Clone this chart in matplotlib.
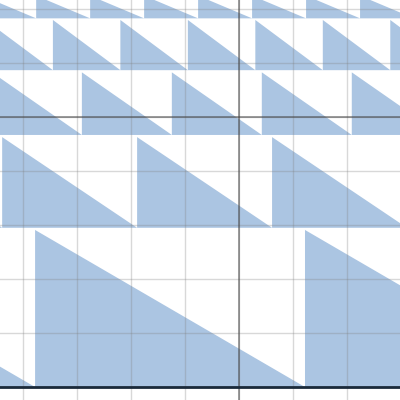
import numpy as np
import matplotlib.pyplot as plt

# sawtooth rows: bottom, top, period, one tooth edge position
row_bottom = [-5.0, -2.05, -0.33, 0.87, 1.83]
row_top = [-2.09, -0.37, 0.83, 1.80, 2.25]
row_period = [5.0, 2.5, 5 / 3, 1.25, 1.0]
row_edge = [1.22, 0.61, 0.42, 0.30, 0.24]

fig = plt.figure(figsize=(4, 4), dpi=100)
ax = fig.add_axes([0, 0, 1, 1])
xmin, xmax = -4.43, 2.98
ymin, ymax = -5.24, 2.17

for b, t, p, e in zip(row_bottom, row_top, row_period, row_edge):
    k0 = int(np.floor((xmin - e) / p)) - 1
    k1 = int(np.ceil((xmax - e) / p)) + 1
    for k in range(k0, k1):
        x0 = e + k * p
        ax.fill([x0, x0, x0 + p], [b, t, b], color='#abc5e2', lw=0, zorder=1)

for v in range(-5, 4):
    ax.axvline(v, color='0.5', alpha=0.3, lw=1, zorder=2)
for v in range(-5, 3):
    ax.axhline(v, color='0.5', alpha=0.3, lw=1, zorder=2)
ax.axvline(0, color='0.25', alpha=0.6, lw=1.2, zorder=3)
ax.axhline(0, color='0.25', alpha=0.6, lw=1.2, zorder=3)
ax.axhline(-5, color='#1a2a3a', lw=2, zorder=3)

ax.set_xlim(xmin, xmax)
ax.set_ylim(ymin, ymax)
ax.axis('off')
fig.savefig('out.png')
